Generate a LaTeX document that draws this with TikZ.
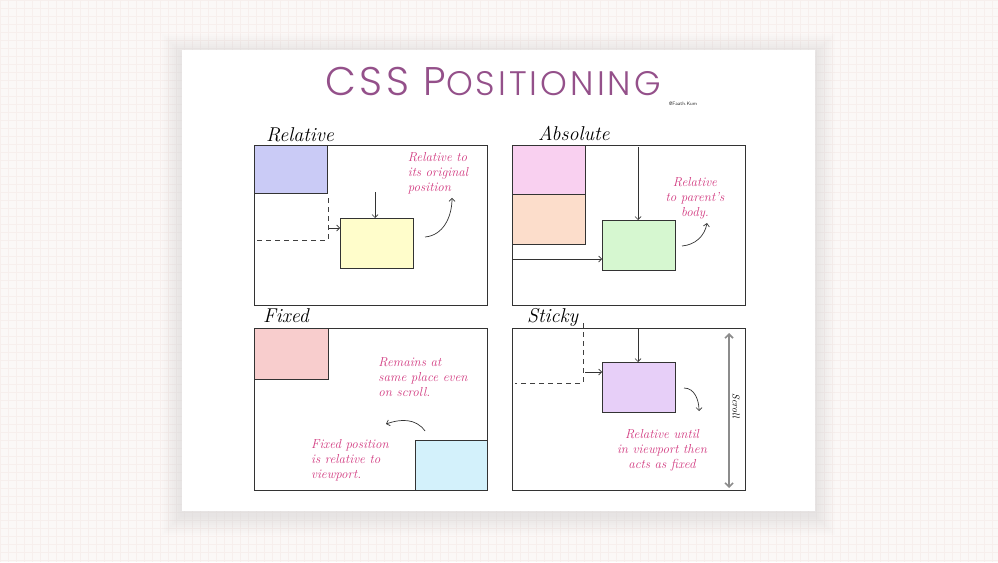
\documentclass[tikz,border=0pt]{standalone}
\usepackage{fontspec}
\newfontfamily\titlefont{Poppins Light}[LetterSpace=9]
\usetikzlibrary{positioning,arrows.meta}
\definecolor{paper}{HTML}{FBF8F7}
\definecolor{gridline}{HTML}{F7EFED}
\definecolor{inkpink}{HTML}{D23A80}
\definecolor{titleink}{HTML}{94508A}
\definecolor{boxblue}{HTML}{CACBF6}
\definecolor{boxyellow}{HTML}{FFFDCB}
\definecolor{boxpink}{HTML}{F9D0F0}
\definecolor{boxorange}{HTML}{FCDDCB}
\definecolor{boxgreen}{HTML}{D6F7D0}
\definecolor{boxred}{HTML}{F8CDCD}
\definecolor{boxcyan}{HTML}{D3F1FB}
\definecolor{boxpurple}{HTML}{E7CFF8}
\tikzset{
  frame/.style={draw=black!80,line width=1pt,anchor=north west,inner sep=0pt},
  pbox/.style={draw=black!80,line width=1pt,anchor=north west,inner sep=0pt,
    minimum width=73pt,minimum height=50pt},
  hand/.style={font=\itshape\fontsize{20}{20}\selectfont,anchor=base west,inner sep=0pt},
  note/.style={text=inkpink,font=\itshape\fontsize{13}{15}\selectfont,align=left,inner sep=0pt},
  arr/.style={-{Straight Barb[length=3pt,width=6pt]},line width=0.7pt,black!80},
  trail/.style={dash pattern=on 5pt off 4pt,line width=0.9pt,black!75},
}
\begin{document}
\begin{tikzpicture}[x=1pt,y=-1pt]
\useasboundingbox (0,0) rectangle (998,562);
% paper and grid
\fill[paper] (0,0) rectangle (998,562);
\draw[gridline,step=8pt] (0,0) grid (998,562);
% card with soft shadow
\foreach \s in {1,...,10}
  \fill[black!60,opacity=0.007] (182-\s*2,50-\s*2+4) rectangle (815+\s*2,511+\s*2+4);
\fill[white] (182,50) rectangle (815,511);
% title
\node[text=titleink,font=\titlefont\fontsize{40}{40}\selectfont] (title) at (493,81)
  {CSS P{\fontsize{34}{34}\selectfont OSITIONING}};
\node[font=\sffamily\fontsize{5}{5}\selectfont,text=black!80] (credit) at (683,104) {@Faath.Kum};

% relative
\node[frame,minimum width=233pt,minimum height=160pt] (relf) at (254,145) {};
\node[hand] (rellab) at (266,141) {Relative};
\node[pbox,fill=boxblue,minimum height=48pt] (blu) at (254,145) {};
\node[pbox,fill=boxyellow] (yel) at (340,218) {};
\coordinate (relturn) at (257,240);
\coordinate (relhook) at (329,228);
\coordinate (reldrop) at (375,192);
\draw[trail] ([yshift=-4pt]blu.south east) |- (relturn);
\draw[arr] (relhook) -- (relhook -| yel.west);
\draw[arr] (reldrop) -- (reldrop |- yel.north);
\node[note] (relnote) at (438,173) {Relative to\\its original\\position};
\coordinate (relcurve) at (425,237);
\draw[arr] (relcurve) to[out=5,in=-90] ([xshift=14pt,yshift=-4pt]relnote.south);

% absolute
\node[frame,minimum width=233pt,minimum height=160pt] (absf) at (512,145) {};
\node[hand] (abslab) at (538,140) {Absolute};
\node[pbox,fill=boxpink,minimum height=49pt] (pnk) at (512,145) {};
\node[pbox,fill=boxorange] (org) at (512,194) {};
\node[pbox,fill=boxgreen] (grn) at (602,220) {};
\coordinate (absdrop) at (638,147);
\coordinate (absin) at (513,259);
\draw[arr] (absdrop) -- (absdrop |- grn.north);
\draw[arr] (absin) -- (absin -| grn.west);
\node[note,align=center] (absnote) at (695,198) {Relative\\to parent's\\body.};
\coordinate (abscurve) at (682,246);
\draw[arr] (abscurve) to[out=5,in=-100] ([xshift=12pt,yshift=-4pt]absnote.south);

% fixed
\node[frame,minimum width=233pt,minimum height=162pt] (fixf) at (254,328) {};
\node[hand] (fixlab) at (263,322) {Fixed};
\node[pbox,fill=boxred,minimum width=74pt,minimum height=51pt] (red) at (254,328) {};
\node[pbox,fill=boxcyan,minimum width=72pt] (cyn) at (415,440) {};
\node[note] (fixtop) at (423,377) {Remains at\\same place even\\on scroll.};
\node[note] (fixbot) at (350,460) {Fixed position\\is relative to\\viewport.};
\coordinate (fixcurve) at (425,431);
\coordinate (fixtip) at (386,424);
\draw[arr] (fixcurve) to[out=125,in=20] (fixtip);

% sticky
\node[frame,minimum width=233pt,minimum height=162pt] (stkf) at (512,328) {};
\node[hand] (stklab) at (527,322) {Sticky};
\node[pbox,fill=boxpurple] (prp) at (602,362) {};
\coordinate (stktop) at (583,323);
\coordinate (stkturn) at (515,383);
\coordinate (stkhook) at (585,372);
\coordinate (stkdrop) at (638,329);
\draw[trail] (stktop) |- (stkturn);
\draw[arr] (stkhook) -- (stkhook -| prp.west);
\draw[arr] (stkdrop) -- (stkdrop |- prp.north);
\coordinate (stkcurve) at (684,388);
\coordinate (stktip) at (699,411);
\draw[arr] (stkcurve) to[out=0,in=90] (stktip);
\node[note,align=center] (stknote) at (662,450) {Relative until\\in viewport then\\acts as fixed};
\coordinate (scrtop) at (729,333);
\coordinate (scrbot) at (729,488);
\draw[{Straight Barb[length=4pt,width=8pt]}-{Straight Barb[length=4pt,width=8pt]},black!45,line width=1.6pt] (scrtop) -- (scrbot);
\node[font=\itshape\fontsize{10}{10}\selectfont,rotate=-90,fill=white,inner sep=1pt] (scrlab) at (736,406) {Scroll};
\end{tikzpicture}
\end{document}
